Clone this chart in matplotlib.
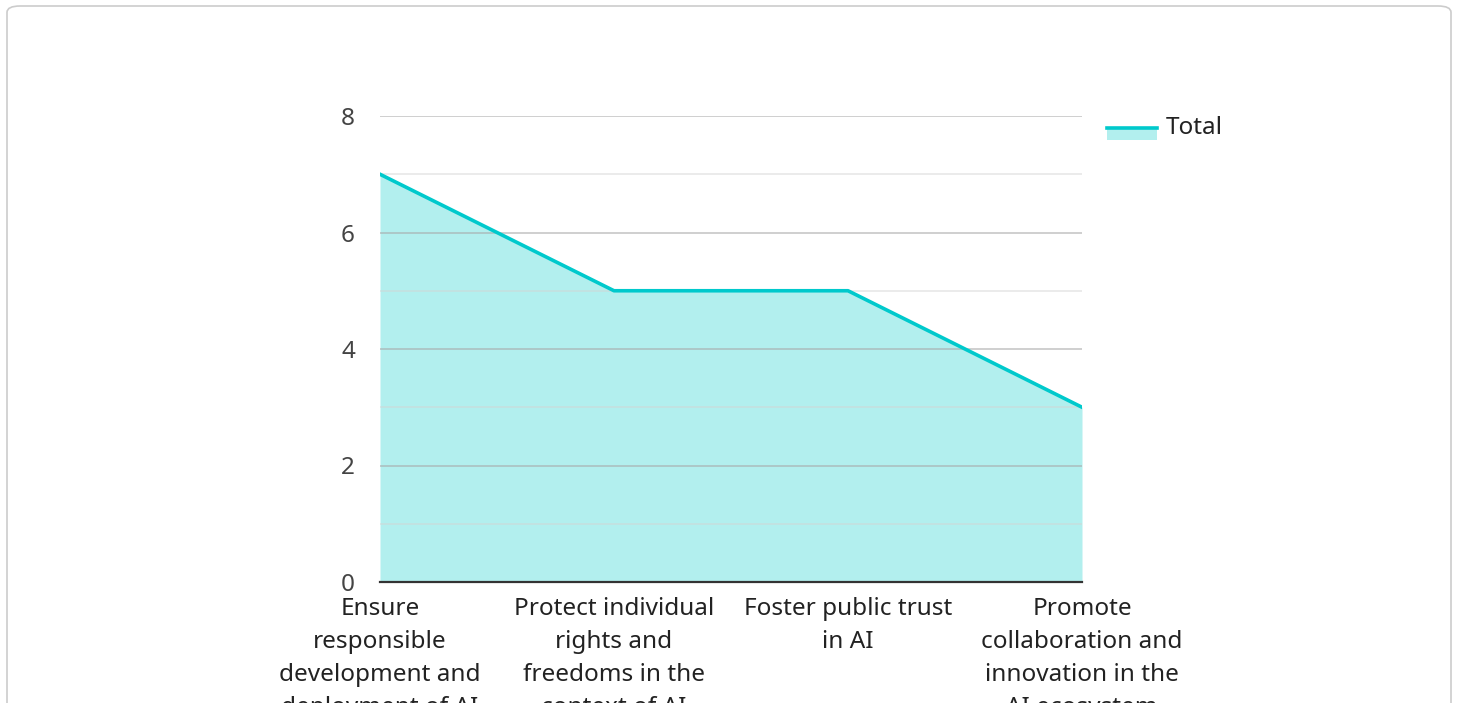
import matplotlib
matplotlib.use('Agg')
import matplotlib.pyplot as plt
from matplotlib.patches import FancyBboxPatch, Rectangle
from matplotlib.lines import Line2D

# Data
categories = ['Ensure\nresponsible\ndevelopment and\ndeployment of AI',
              'Protect individual\nrights and\nfreedoms in the\ncontext of AI',
              'Foster public trust\nin AI',
              'Promote\ncollaboration and\ninnovation in the\nAI ecosystem']
totals = [7, 5, 5, 3]
series_name = 'Total'

line_color = '#00c9cc'
fill_color = '#b2efee'

plt.rcParams['font.family'] = ['Noto Sans', 'DejaVu Sans']

W, H = 1458, 703
fig = plt.figure(figsize=(W / 100, H / 100), dpi=100)

# Outer card border
card = FancyBboxPatch((7 / W, -20 / H), 1444 / W, (H - 6 + 20) / H,
                      boxstyle='round,pad=0,rounding_size=0.009',
                      transform=fig.transFigure, facecolor='white',
                      edgecolor='#cccccc', linewidth=1.2, zorder=0)
fig.add_artist(card)

ax = fig.add_axes([380 / W, (H - 582) / H, 702 / W, 466 / H])
ax.set_facecolor('none')

x = list(range(len(categories)))
ax.fill_between(x, totals, 0, color=fill_color, linewidth=0, zorder=2)
ax.plot(x, totals, color=line_color, linewidth=2.6, zorder=3)

ax.set_xlim(0, len(categories) - 1)
ax.set_ylim(0, 8)

ax.set_yticks([0, 2, 4, 6, 8])
ax.set_yticks([1, 3, 5, 7], minor=True)
ax.grid(axis='y', which='major', color='#a8a8a8', alpha=0.7, linewidth=1.1)
ax.grid(axis='y', which='minor', color='#d4d4d4', alpha=0.6, linewidth=1.1)
for gl in ax.get_ygridlines():
    gl.set_zorder(4)
for gl in ax.yaxis.get_minorticklines():
    gl.set_zorder(4)
ax.set_axisbelow(False)

for s in ['top', 'right', 'left']:
    ax.spines[s].set_visible(False)
ax.spines['bottom'].set_color('#333333')
ax.spines['bottom'].set_linewidth(1.6)
ax.spines['bottom'].set_zorder(5)

ax.set_xticks(x)
ax.set_xticklabels(categories, fontsize=17.5, color='#222222', linespacing=1.5)
ax.tick_params(axis='x', length=0, pad=11)
ax.tick_params(axis='y', which='both', length=0, pad=18, labelsize=17.5,
               labelcolor='#444444')

# Legend drawn in figure coordinates
fig.add_artist(Rectangle((1107 / W, (H - 140) / H), 50 / W, 13 / H,
                         transform=fig.transFigure, facecolor=fill_color,
                         edgecolor='none'))
fig.add_artist(Line2D([1107 / W, 1157 / W], [(H - 127.5) / H, (H - 127.5) / H],
                      transform=fig.transFigure, color=line_color, linewidth=2.6))
fig.text(1166 / W, (H - 128) / H, series_name, fontsize=17.5, color='#222222',
         va='center', ha='left')

fig.savefig('out.png', dpi=100)
